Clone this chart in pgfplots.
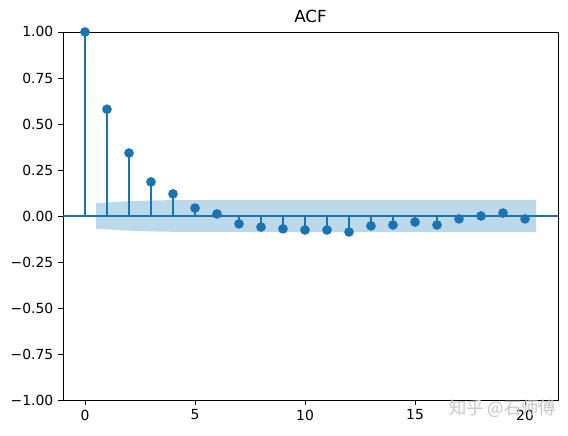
\documentclass[border=0pt]{standalone}
\usepackage{fontspec}
\setmainfont{DejaVu Sans}
\newfontfamily\cjk{Noto Sans CJK SC}
\usepackage{pgfplots}
\pgfplotsset{compat=1.18}
\definecolor{acf}{HTML}{1A74B2}
\definecolor{band}{HTML}{BCD8EB}
\begin{document}
\begin{tikzpicture}[x=1pt,y=1pt]
\useasboundingbox (-45.36,-25.2) rectangle (363.6,288);
\begin{axis}[
  at={(0,0)}, anchor=south west,
  scale only axis, width=356.4pt, height=265pt,
  xmin=-1, xmax=21.5, ymin=-1, ymax=1,
  xtick={0,5,10,15,20}, xticklabels={0,5,10,15,20},
  ytick={-1,-0.75,-0.5,-0.25,0,0.25,0.5,0.75,1},
  yticklabels={−1.00,−0.75,−0.50,−0.25,0.00,0.25,0.50,0.75,1.00},
  tick align=outside, tick pos=left,
  major tick length=3.5pt,
  tick style={black, line width=0.6pt},
  axis line style={black, line width=0.6pt},
  ticklabel style={font=\fontsize{10pt}{12pt}\selectfont},
  title={ACF}, title style={font=\fontsize{12pt}{14pt}\selectfont, yshift=-3pt},
  clip=false,
]
\addplot[draw=none, fill=band, forget plot] coordinates {
(0.5,0.068) (1,0.073) (1.5,0.077) (2,0.080) (3,0.084) (4,0.086) (6,0.087) (20.5,0.088)
(20.5,-0.088) (6,-0.087) (4,-0.086) (3,-0.084) (2,-0.080) (1.5,-0.077) (1,-0.073) (0.5,-0.068)} -- cycle;
\addplot[acf, line width=1.1pt, forget plot] coordinates {(-1,0) (21.5,0)};
\addplot[ycomb, acf, line width=1.1pt, mark=*, mark size=2.9pt, mark options={fill=acf, draw=acf}] coordinates {
(0,1.0) (1,0.58) (2,0.342) (3,0.185) (4,0.12) (5,0.043) (6,0.011) (7,-0.043)
(8,-0.060) (9,-0.070) (10,-0.076) (11,-0.076) (12,-0.087) (13,-0.054) (14,-0.049)
(15,-0.033) (16,-0.049) (17,-0.016) (18,0.0) (19,0.016) (20,-0.016)};
\end{axis}
\node[text=black!22, font=\cjk\fontsize{12.5pt}{14pt}\selectfont, anchor=center] at (316.5,-6) {知乎 @石师傅};
\end{tikzpicture}
\end{document}
